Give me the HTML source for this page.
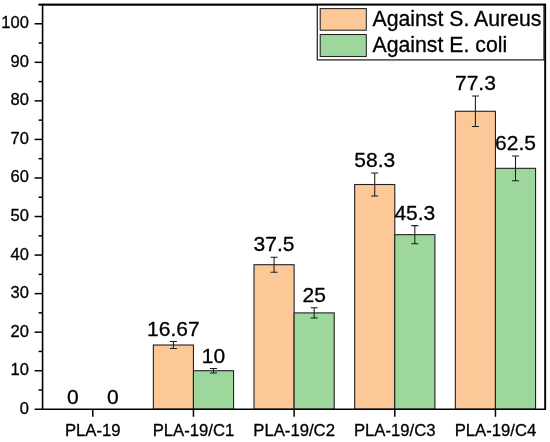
<!DOCTYPE html>
<html><head><meta charset="utf-8"><title>chart</title>
<style>html,body{margin:0;padding:0;background:#fff;overflow:hidden}text{stroke:#000;stroke-width:0.3px;stroke-linejoin:round}</style></head>
<body>
<svg width="550" height="442" viewBox="0 0 550 442" style="display:block" font-family="'Liberation Sans', sans-serif" fill="#000">
<rect width="550" height="442" fill="#fff"/>
<rect x="153.35" y="345.01" width="40.10" height="64.26" fill="#FCC898" stroke="#222" stroke-width="1.1"/>
<rect x="193.45" y="370.72" width="40.10" height="38.55" fill="#9DD79C" stroke="#222" stroke-width="1.1"/>
<rect x="254.01" y="264.71" width="40.10" height="144.56" fill="#FCC898" stroke="#222" stroke-width="1.1"/>
<rect x="294.11" y="312.89" width="40.10" height="96.38" fill="#9DD79C" stroke="#222" stroke-width="1.1"/>
<rect x="354.68" y="184.52" width="40.10" height="224.75" fill="#FCC898" stroke="#222" stroke-width="1.1"/>
<rect x="394.78" y="234.64" width="40.10" height="174.63" fill="#9DD79C" stroke="#222" stroke-width="1.1"/>
<rect x="455.35" y="111.28" width="40.10" height="297.99" fill="#FCC898" stroke="#222" stroke-width="1.1"/>
<rect x="495.45" y="168.33" width="40.10" height="240.94" fill="#9DD79C" stroke="#222" stroke-width="1.1"/>
<text x="72.73" y="404.07" font-size="21" text-anchor="middle">0</text>
<text x="112.83" y="404.07" font-size="21" text-anchor="middle">0</text>
<path d="M173.40 341.49V348.52M169.90 341.49H176.90M169.90 348.52H176.90" stroke="#1a1a1a" stroke-width="1.05" fill="none"/>
<text x="173.40" y="335.59" font-size="21" text-anchor="middle">16.67</text>
<path d="M213.50 368.49V372.95M210.00 368.49H217.00M210.00 372.95H217.00" stroke="#1a1a1a" stroke-width="1.05" fill="none"/>
<text x="213.50" y="362.59" font-size="21" text-anchor="middle">10</text>
<path d="M274.06 257.18V272.24M270.56 257.18H277.56M270.56 272.24H277.56" stroke="#1a1a1a" stroke-width="1.05" fill="none"/>
<text x="274.06" y="251.28" font-size="21" text-anchor="middle">37.5</text>
<path d="M314.16 307.78V318.01M310.66 307.78H317.66M310.66 318.01H317.66" stroke="#1a1a1a" stroke-width="1.05" fill="none"/>
<text x="314.16" y="301.88" font-size="21" text-anchor="middle">25</text>
<path d="M374.73 172.99V196.06M371.23 172.99H378.23M371.23 196.06H378.23" stroke="#1a1a1a" stroke-width="1.05" fill="none"/>
<text x="374.73" y="167.09" font-size="21" text-anchor="middle">58.3</text>
<path d="M414.83 225.61V243.67M411.33 225.61H418.33M411.33 243.67H418.33" stroke="#1a1a1a" stroke-width="1.05" fill="none"/>
<text x="414.83" y="219.71" font-size="21" text-anchor="middle">45.3</text>
<path d="M475.40 96.08V126.48M471.90 96.08H478.90M471.90 126.48H478.90" stroke="#1a1a1a" stroke-width="1.05" fill="none"/>
<text x="475.40" y="90.18" font-size="21" text-anchor="middle">77.3</text>
<path d="M515.50 155.99V180.68M512.00 155.99H519.00M512.00 180.68H519.00" stroke="#1a1a1a" stroke-width="1.05" fill="none"/>
<text x="515.50" y="150.09" font-size="21" text-anchor="middle">62.5</text>
<path d="M42.58 409.27V4.6H545.27V409.27" fill="none" stroke="#000" stroke-width="1.6" stroke-linejoin="miter"/>
<path d="M34.58 409.27H546.0699999999999" fill="none" stroke="#000" stroke-width="1.7"/>
<text x="28.9" y="413.77" font-size="16.5" text-anchor="end">0</text>
<path d="M34.58 370.72H42.58" stroke="#000" stroke-width="1.5"/>
<text x="28.9" y="375.22" font-size="16.5" text-anchor="end">10</text>
<path d="M34.58 332.17H42.58" stroke="#000" stroke-width="1.5"/>
<text x="28.9" y="336.67" font-size="16.5" text-anchor="end">20</text>
<path d="M34.58 293.62H42.58" stroke="#000" stroke-width="1.5"/>
<text x="28.9" y="298.12" font-size="16.5" text-anchor="end">30</text>
<path d="M34.58 255.07H42.58" stroke="#000" stroke-width="1.5"/>
<text x="28.9" y="259.57" font-size="16.5" text-anchor="end">40</text>
<path d="M34.58 216.52H42.58" stroke="#000" stroke-width="1.5"/>
<text x="28.9" y="221.02" font-size="16.5" text-anchor="end">50</text>
<path d="M34.58 177.97H42.58" stroke="#000" stroke-width="1.5"/>
<text x="28.9" y="182.47" font-size="16.5" text-anchor="end">60</text>
<path d="M34.58 139.42H42.58" stroke="#000" stroke-width="1.5"/>
<text x="28.9" y="143.92" font-size="16.5" text-anchor="end">70</text>
<path d="M34.58 100.87H42.58" stroke="#000" stroke-width="1.5"/>
<text x="28.9" y="105.37" font-size="16.5" text-anchor="end">80</text>
<path d="M34.58 62.32H42.58" stroke="#000" stroke-width="1.5"/>
<text x="28.9" y="66.82" font-size="16.5" text-anchor="end">90</text>
<path d="M34.58 23.77H42.58" stroke="#000" stroke-width="1.5"/>
<text x="28.9" y="28.27" font-size="16.5" text-anchor="end">100</text>
<path d="M38.58 390.00H42.58" stroke="#000" stroke-width="1.5"/>
<path d="M38.58 351.44H42.58" stroke="#000" stroke-width="1.5"/>
<path d="M38.58 312.89H42.58" stroke="#000" stroke-width="1.5"/>
<path d="M38.58 274.34H42.58" stroke="#000" stroke-width="1.5"/>
<path d="M38.58 235.79H42.58" stroke="#000" stroke-width="1.5"/>
<path d="M38.58 197.24H42.58" stroke="#000" stroke-width="1.5"/>
<path d="M38.58 158.69H42.58" stroke="#000" stroke-width="1.5"/>
<path d="M38.58 120.14H42.58" stroke="#000" stroke-width="1.5"/>
<path d="M38.58 81.59H42.58" stroke="#000" stroke-width="1.5"/>
<path d="M38.58 43.04H42.58" stroke="#000" stroke-width="1.5"/>
<path d="M38.58 4.60H42.58" stroke="#000" stroke-width="1.5"/>
<path d="M92.78 409.27V416.77" stroke="#000" stroke-width="1.5"/>
<text x="92.78" y="435.5" font-size="16.7" text-anchor="middle">PLA-19</text>
<path d="M193.45 409.27V416.77" stroke="#000" stroke-width="1.5"/>
<text x="193.45" y="435.5" font-size="16.7" text-anchor="middle">PLA-19/C1</text>
<path d="M294.11 409.27V416.77" stroke="#000" stroke-width="1.5"/>
<text x="294.11" y="435.5" font-size="16.7" text-anchor="middle">PLA-19/C2</text>
<path d="M394.78 409.27V416.77" stroke="#000" stroke-width="1.5"/>
<text x="394.78" y="435.5" font-size="16.7" text-anchor="middle">PLA-19/C3</text>
<path d="M495.45 409.27V416.77" stroke="#000" stroke-width="1.5"/>
<text x="495.45" y="435.5" font-size="16.7" text-anchor="middle">PLA-19/C4</text>
<rect x="317.3" y="4.6" width="226.67" height="55.30" fill="#fff" stroke="#2a2a2a" stroke-width="1.3"/>
<rect x="320.2" y="8.6" width="46.1" height="21.6" fill="#FCC898" stroke="#222" stroke-width="1.05"/>
<rect x="320.2" y="34.5" width="46.1" height="22" fill="#9DD79C" stroke="#222" stroke-width="1.05"/>
<text x="372.5" y="26.2" font-size="21.25">Against S. Aureus</text>
<text x="372.5" y="51.8" font-size="21.25">Against E. coli</text>
<path d="M38.58 4.6H545.27V409.27" fill="none" stroke="#000" stroke-width="1.6"/>
</svg>
</body></html>
